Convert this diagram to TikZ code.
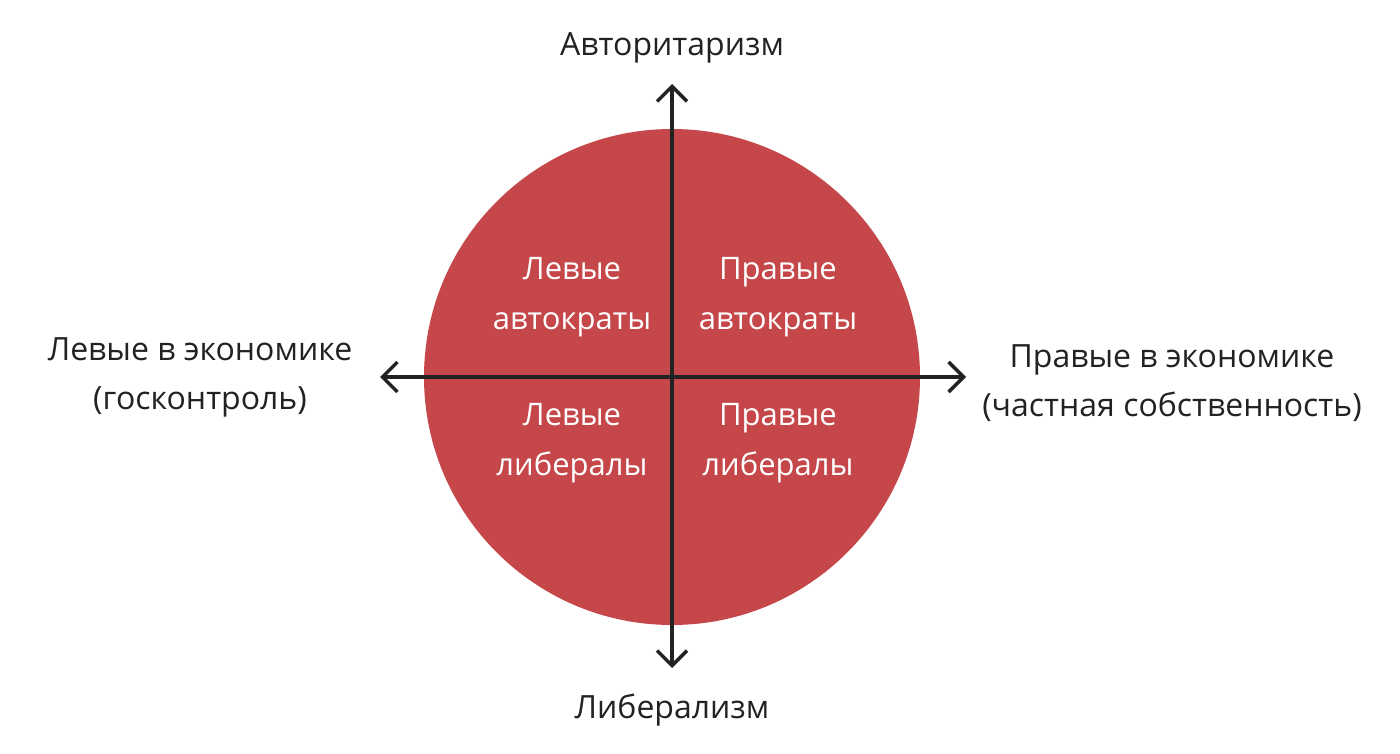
\documentclass[tikz,border=0pt]{standalone}
\usepackage{fontspec}
\setmainfont{Open Sans}
\usetikzlibrary{arrows.meta}
\definecolor{circred}{HTML}{C6474A}
\definecolor{axis}{HTML}{222222}
\tikzset{
  ax/.style={line width=3.5pt, color=axis, {Straight Barb[length=15pt,width=30pt,line width=3.5pt]}-{Straight Barb[length=15pt,width=30pt,line width=3.5pt]}},
  lbl/.style={font=\fontsize{32}{49}\selectfont, text=axis, align=center},
  inl/.style={font=\fontsize{31}{50}\selectfont, text=white, align=center}
}
\begin{document}
\begin{tikzpicture}[x=1pt,y=-1pt]
\useasboundingbox (0,0) rectangle (1400,754);
\fill[white] (0,0) rectangle (1400,754);
\node[circle, fill=circred, minimum size=496pt, inner sep=0] (c) at (672,377) {};
\coordinate (t) at (672,84);
\coordinate (b) at (672,668);
\coordinate (l) at (380,377);
\coordinate (r) at (966,377);
\draw[ax] (b) -- (t);
\draw[ax] (l) -- (r);
\node[lbl] (na) at (672,48) {Авторитаризм};
\node[lbl] (nl) at (672,710) {Либерализм};
\node[lbl] (nw) at (200,377) {Левые в экономике\\(госконтроль)};
\node[lbl] (ne) at (1172,383) {Правые в экономике\\(частная собственность)};
\node[inl] (q1) at (572,297) {Левые\\автократы};
\node[inl] (q2) at (778,297) {Правые\\автократы};
\node[inl] (q3) at (572,443) {Левые\\либералы};
\node[inl] (q4) at (778,443) {Правые\\либералы};
\end{tikzpicture}
\end{document}
